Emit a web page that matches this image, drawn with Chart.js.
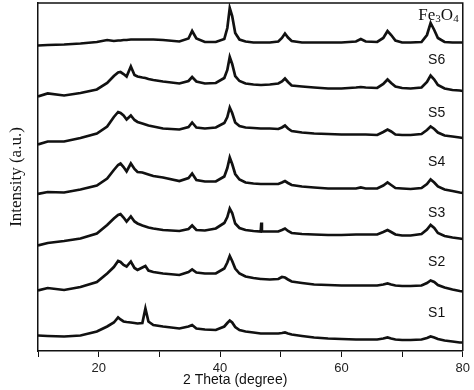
<!DOCTYPE html>
<html>
<head>
<meta charset="utf-8">
<script src="https://cdn.jsdelivr.net/npm/chart.js@4/dist/chart.umd.min.js"></script>
<style>
html,body{margin:0;padding:0;background:#fff;}
#wrap{width:474px;height:390px;position:relative;}
</style>
</head>
<body>
<div id="wrap"><canvas id="c" width="474" height="390"></canvas></div>
<script>
// 2θ positions (degree) at which intensities were read
const twoTheta = [10, 11.6, 14.3, 17, 19.7, 21.4, 22.5, 23.2, 23.6, 24.1, 24.6, 25.3, 25.9, 26.4, 27.2, 27.7, 28.2, 29, 30.6, 33.3, 34.8, 35.4, 36.1, 37.5, 39.3, 40.7, 41.2, 41.6, 42.0, 42.5, 43.2, 44.2, 45.5, 46.7, 46.8, 46.9, 48.2, 49.6, 50.2, 50.7, 51.2, 51.8, 53.5, 55.5, 57.8, 60, 62.4, 63.2, 64, 65.9, 66.9, 67.6, 68.2, 68.9, 70, 71.4, 73.2, 74.1, 74.7, 75.3, 75.9, 77, 78.3, 79.5, 80];

// stacked intensities (a.u.)
const fe3o4 = [305.5, 306, 306.5, 307.5, 309, 311, 310, 310.5, 310.5, 311, 311, 311.5, 311.5, 311.5, 311.5, 311.5, 311.5, 311.5, 311, 309.5, 312.5, 320, 312.5, 309, 309, 312, 323, 343, 335, 318, 311.5, 309.5, 308.5, 308.5, 308.5, 308.5, 308.5, 309.5, 313, 317.5, 313.5, 310, 308.5, 308.5, 308.5, 308.5, 309.5, 312, 309.5, 309, 313, 320, 316, 310.5, 308.5, 308.5, 309, 316, 328, 321, 313, 309, 308.5, 308.5, 308.5];
const s6 = [254.5, 257.5, 255.5, 258, 261.5, 268, 275, 278.5, 279, 277, 274.5, 284.5, 276, 274.5, 273.5, 273, 272, 271, 269.5, 267.5, 270, 274, 269.5, 267.5, 268, 273, 281, 294, 287, 275, 270, 267.5, 266.5, 266, 266, 266, 266.5, 267.5, 269.5, 272.5, 269, 265.5, 264.5, 263.5, 262.5, 262.5, 263.5, 264, 263.5, 263, 267, 271.5, 268, 264.5, 263, 262.5, 263.5, 269, 275.5, 271.5, 266, 262.5, 261, 260.5, 260];
const s5 = [206.5, 209.5, 209.5, 213, 217.5, 224.5, 234, 239, 238, 235.5, 231.5, 235.5, 231, 229, 227.5, 226.5, 225.5, 224.5, 222.5, 221.5, 224, 228.5, 223.5, 222.5, 223.5, 228, 234, 243.5, 238, 228.5, 225, 223.5, 223, 222.5, 222.5, 222.5, 222.5, 222, 223.5, 225.5, 222.5, 220, 218.5, 217.5, 217, 216.5, 216.5, 216.5, 216.5, 216, 219, 221.5, 219.5, 216.5, 216, 216, 217, 221, 224.5, 222, 218.5, 215.5, 214.5, 213.5, 213];
const s4 = [157, 159, 158.5, 161.5, 165.5, 172.5, 181, 186, 187.5, 184, 179.5, 187.5, 182, 179, 178.5, 177.5, 176.5, 175, 173.5, 170, 173, 177.5, 171, 169.5, 169.5, 174.5, 183, 193.5, 187, 177, 171.5, 168.5, 167.5, 167, 167, 167, 167, 167, 168.5, 170, 168, 166, 164.5, 163.5, 162.5, 162.5, 162.5, 163.5, 162.5, 162.5, 165.5, 168.5, 166, 163, 162.5, 162, 163, 167, 171.5, 168.5, 164.5, 161.5, 160, 158.5, 158];
const s3 = [105.5, 108, 110, 112.5, 117.5, 126, 132.5, 136, 137, 133.5, 129.5, 134.5, 129.5, 127.5, 125.5, 124.5, 123.5, 122.5, 121, 120, 122, 125.5, 121, 120.5, 122.5, 128, 134, 142.5, 138, 127.5, 123, 121, 120, 119.5, 128.5, 119.5, 119.5, 119.5, 121, 122.5, 120, 118, 117, 116.5, 116, 116, 116.5, 116.5, 116.5, 116.5, 119, 121, 119, 116.5, 115.5, 115.5, 117, 121.5, 126, 123, 118, 115, 113.5, 112.5, 112];
const s2 = [60.5, 63, 61, 64, 69, 77.5, 84, 90, 89, 86, 84.5, 89.5, 83, 81, 83.5, 85, 80.5, 79, 77.5, 76, 79, 81.5, 78.5, 77.5, 77.5, 82.5, 88.5, 95, 90, 82.5, 77.5, 74.5, 73, 72, 72, 72, 71.5, 72, 74, 73.5, 71.5, 69.5, 68, 66.5, 66, 65.5, 65.5, 65.5, 65.5, 65.5, 66.5, 67.5, 66.5, 65.5, 65, 65, 65.5, 68, 70.5, 69, 66, 63.5, 61.5, 60, 59.5];
const s1 = [15.5, 15, 14.5, 15.5, 19.5, 24.5, 28.5, 33.5, 31.5, 29.5, 29, 28.5, 28, 27.5, 28, 42.5, 29.5, 26, 24.5, 22.5, 24.5, 26, 22.5, 21.5, 21, 24.5, 28, 30.5, 28.5, 24, 21, 19.5, 18.5, 17.5, 17.5, 17.5, 17.5, 17.5, 18, 18.5, 17.5, 16.5, 15, 13.5, 12.5, 12, 11.5, 11.5, 11.5, 11.5, 12.5, 13.5, 12.5, 11.5, 11, 11, 11.5, 13, 14.5, 13.5, 12, 10.5, 9.5, 8.5, 8.5];

const seriesNames = ['Fe3O4', 'S6', 'S5', 'S4', 'S3', 'S2', 'S1'];
const seriesValues = [fe3o4, s6, s5, s4, s3, s2, s1];
const xTicks = [10, 20, 30, 40, 50, 60, 70, 80];
const xTickLabels = ['', '20', '', '40', '', '60', '', '80'];
const xTitle = '2 Theta (degree)';
const yTitle = 'Intensity (a.u.)';

const datasets = seriesNames.map((name, i) => ({
  label: name,
  data: twoTheta.map((t, j) => ({x: t, y: seriesValues[i][j]})),
  borderColor: '#111',
  borderWidth: 2.7,
  pointRadius: 0,
  tension: 0,
  fill: false
}));

// label placement (x in degree, y in a.u.)
const labelPlacement = {
  Fe3O4: [76, 337],
  S6: [75.7, 291],
  S5: [75.7, 238],
  S4: [75.7, 189],
  S3: [75.7, 138],
  S2: [75.7, 89],
  S1: [75.7, 38]
};

const framePlugin = {
  id: 'frame',
  afterDraw(chart) {
    const {ctx, chartArea: a} = chart;
    ctx.save();
    ctx.strokeStyle = '#111';
    ctx.lineWidth = 1.5;
    ctx.beginPath();
    ctx.moveTo(a.left, a.top);
    ctx.lineTo(a.right, a.top);
    ctx.lineTo(a.right, a.bottom);
    ctx.stroke();
    const xs = chart.scales.x, ys = chart.scales.y;
    ctx.fillStyle = '#111';
    // x axis title (offset left of centre as in the original)
    ctx.font = '14px "Liberation Sans", Arial, sans-serif';
    ctx.textAlign = 'center';
    ctx.textBaseline = 'middle';
    ctx.fillText(xTitle, xs.getPixelForValue(42.5), 380);
    // trace labels
    seriesNames.forEach(name => {
      const p = labelPlacement[name];
      const px = xs.getPixelForValue(p[0]);
      const py = ys.getPixelForValue(p[1]);
      if (name === 'Fe3O4') {
        const big = '17px "Liberation Serif", "Times New Roman", serif';
        const small = '11px "Liberation Serif", "Times New Roman", serif';
        const parts = [['Fe', big, 0], ['3', small, 1.5], ['O', big, 0], ['4', small, 1.5]];
        let w = 0;
        parts.forEach(pt => { ctx.font = pt[1]; w += ctx.measureText(pt[0]).width; });
        let cx = px - w / 2;
        ctx.textAlign = 'left';
        ctx.textBaseline = 'alphabetic';
        parts.forEach(pt => {
          ctx.font = pt[1];
          ctx.fillText(pt[0], cx, py + 6 + pt[2]);
          cx += ctx.measureText(pt[0]).width;
        });
        ctx.textBaseline = 'middle';
      } else {
        ctx.font = '14px "Liberation Sans", Arial, sans-serif';
        ctx.textAlign = 'center';
        ctx.fillText(name, px, py);
      }
    });
    ctx.restore();
  }
};

new Chart(document.getElementById('c'), {
  type: 'line',
  data: {datasets},
  plugins: [framePlugin],
  options: {
    responsive: false,
    animation: false,
    events: [],
    layout: {padding: {top: 3, right: 8, left: 0, bottom: 0}},
    plugins: {legend: {display: false}, tooltip: {enabled: false}},
    scales: {
      x: {
        type: 'linear',
        min: 10,
        max: 80,
        afterFit(s) { s.height = 39; },
        afterBuildTicks(s) { s.ticks = xTicks.map(v => ({value: v})); },
        ticks: {
          autoSkip: false,
          maxRotation: 0,
          padding: 4,
          color: '#222',
          font: {family: '"Liberation Sans", Arial, sans-serif', size: 13},
          callback: (v) => xTickLabels[xTicks.indexOf(v)]
        },
        grid: {drawOnChartArea: false, drawTicks: true, tickLength: 6, color: '#111', lineWidth: 1},
        border: {display: true, color: '#111', width: 1.5},
        title: {display: false}
      },
      y: {
        type: 'linear',
        min: 0,
        max: 348,
        afterFit(s) { s.width = 38; },
        ticks: {display: false},
        grid: {display: false},
        border: {display: true, color: '#111', width: 1.5},
        title: {
          display: true,
          text: yTitle,
          color: '#111',
          font: {family: '"Liberation Serif", "Times New Roman", serif', size: 17},
          padding: {top: 6, bottom: 0}
        }
      }
    }
  }
});
</script>
</body>
</html>
